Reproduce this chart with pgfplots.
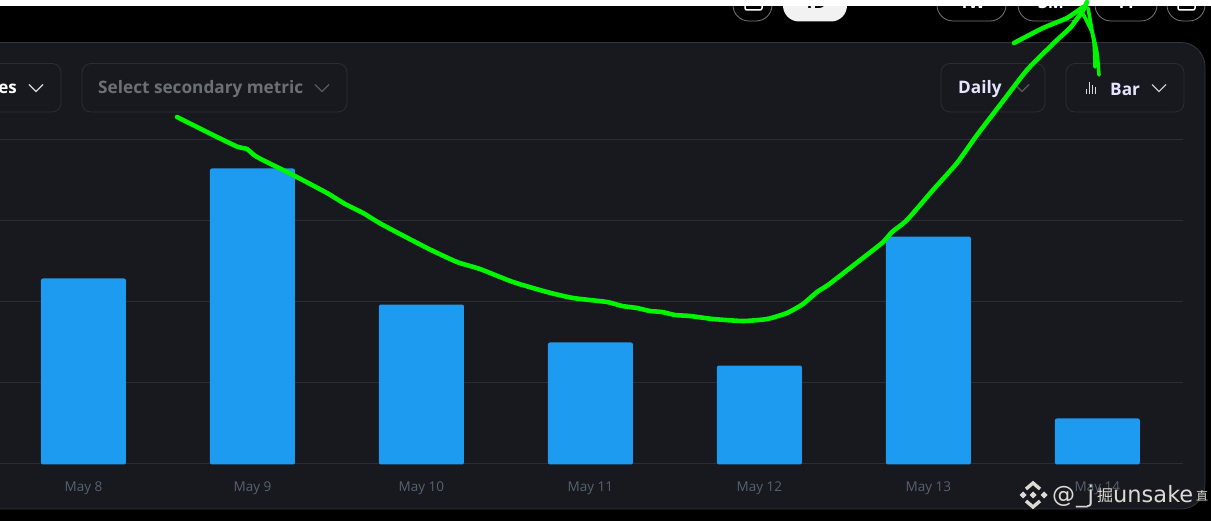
\documentclass[border=0pt]{standalone}
\usepackage{fontspec}
\usepackage{pgfplots}
\pgfplotsset{compat=1.18}
\setmainfont{Open Sans}
\newfontfamily\wm{DejaVu Sans}
\newfontfamily\cjk{Noto Sans CJK SC}
\definecolor{panel}{HTML}{17191F}
\definecolor{pedge}{HTML}{34363B}
\definecolor{boxedge}{HTML}{2B2D33}
\definecolor{gridc}{HTML}{2A2D33}
\definecolor{barc}{HTML}{1D9BF0}
\definecolor{tickc}{HTML}{56636E}
\definecolor{greenpen}{HTML}{00F500}
\definecolor{pill}{HTML}{77777A}
\definecolor{wmc}{HTML}{DDDAD3}
\definecolor{seltext}{HTML}{6B7075}
\pgfplotstableread{
x v
0 2.296
1 3.654
2 1.975
3 1.506
4 1.222
5 2.814
6 0.568
}\bars
\begin{document}
\begin{tikzpicture}[x=1pt,y=1pt]
\path[use as bounding box] (0,0) rectangle (1211,521);
\fill[black] (0,0) rectangle (1211,521);
\begin{scope}
\clip (0,0) rectangle (1211,521);
\begin{scope}[yshift=521pt,y=-1pt]
% top pills, cut by the white strip
\foreach \a/\b in {733/772,937/1006,1018/1085,1095/1157,1167/1205}
  \draw[pill,line width=0.8pt,rounded corners=16pt] (\a,-20) rectangle (\b,21);
\fill[white!90!gray,rounded corners=16pt] (783,-20) rectangle (847,21.5);
\draw[white,line width=1.5pt,rounded corners=2pt] (745,-4) rectangle (762,10);
\draw[white,line width=1.5pt,rounded corners=2pt] (1178,-4) rectangle (1195,10);
\foreach \xx/\tt/\cc in {815/1D/black,972/1W/white,1051/3M/white,1126/1Y/white}
  \node[font=\fontsize{17}{20}\selectfont\bfseries,text=\cc,anchor=base,inner sep=0] at (\xx,8.5) {\tt};
% panel
\fill[panel,draw=pedge,line width=0.8pt,rounded corners=24pt] (-40,42.5) rectangle (1205,509);
% selectors
\foreach \a/\b in {-40/61,82/347,941/1045,1066/1184}
  \draw[boxedge,line width=0.8pt,rounded corners=9pt] (\a,63.5) rectangle (\b,112);
\foreach \c/\col in {36/white!70!gray,322/gray!70!black,1022/gray!70!black,1159/white!55!gray}
  \draw[\col,line width=1.1pt] (\c-7,84.5) -- (\c,91.5) -- (\c+7,84.5);
\foreach \h [count=\i] in {5,12,9,7}
  \draw[white!70!gray,line width=1pt] (1083+\i*3,94) -- ++(0,-\h);
\node[font=\fontsize{17}{20}\selectfont\bfseries,text=white,anchor=east,inner sep=0] at (17,89) {es};
\node[font=\fontsize{17.2}{20}\selectfont\bfseries,text=seltext,anchor=west,inner sep=0] at (98,89) {Select secondary metric};
\node[font=\fontsize{17.2}{20}\selectfont\bfseries,text=white!90!blue,anchor=west,inner sep=0] at (958,89) {Daily};
\node[font=\fontsize{17.2}{20}\selectfont\bfseries,text=white!90!blue,anchor=west,inner sep=0] at (1110,89) {Bar};
\end{scope}
\end{scope}
\fill[white] (0,515) rectangle (1211,521);
\begin{axis}[
  at={(0pt,56.5pt)},anchor=south west,
  scale only axis,width=1183pt,height=325pt,
  xmin=-0.494,xmax=6.506,ymin=0,ymax=4.012,
  axis line style={draw=none},
  major tick length=0pt,
  ytick={0.012,1.012,2.012,3.012,4.012},yticklabels={},
  ymajorgrids,grid style={gridc,line width=1pt},
  xtick=data,
  xticklabels={May 8,May 9,May 10,May 11,May 12,May 13,May 14},
  tick label style={font=\fontsize{13.5}{16}\selectfont,text=tickc},
  xticklabel style={yshift=-14pt},
  ybar,bar width=85pt,
]
\addplot[fill=barc,draw=none,rounded corners=2pt] table[x=x,y=v] {\bars};
\end{axis}
\begin{axis}[
  at={(0pt,0pt)},anchor=south west,
  scale only axis,width=1211pt,height=521pt,
  xmin=0,xmax=1211,ymin=0,ymax=521,y dir=reverse,hide axis,
]
\addplot[greenpen,line width=4.6pt,line cap=round,line join=round,smooth,tension=0.35] coordinates {
(177,117)(213,135)(238,147)(247,149)(257,157)(293,175)(327,193)(345,204)(363,213)(383,225)(427,248)(457,262)(480,269)(513,282)(547,292)(573,298)(607,302)(622,306)(637,308)(650,311)(662,312)(675,315)(690,316)(713,319)(743,321)(767,319)(787,313)(803,304)(817,292)(828,285)(850,268)(882,243)(892,232)(907,220)(933,190)(957,163)(977,135)(1000,105)(1027,70)(1057,40)(1070,28)(1082,12)(1087,2)};
\addplot[greenpen,line width=4.6pt,line cap=round,line join=round,smooth,tension=0.35] coordinates {(1014,43)(1043,28)(1067,18)(1083,7)};
\addplot[greenpen,line width=3.6pt,line cap=round,line join=round,smooth,tension=0.35] coordinates {(1082,12)(1092,32)(1097,53)(1099,75)};
\addplot[greenpen,line width=3.6pt,line cap=round,line join=round,smooth,tension=0.35] coordinates {(1088,8)(1094,43)(1095,67)};
\end{axis}
% watermark
\begin{scope}[yshift=521pt,y=-1pt,wmc]
\foreach \p in {(1023,495),(1033,495),(1044,495)}
  \fill \p ++(-3.5,0) -- ++(3.5,-3.5) -- ++(3.5,3.5) -- ++(-3.5,3.5) -- cycle;
\draw[line width=3.4pt] (1026,489) -- (1033,483) -- (1040,489);
\draw[line width=3.4pt] (1026,501) -- (1033,507) -- (1040,501);
\node[font=\wm\fontsize{23}{28}\selectfont,anchor=base west,inner sep=0] at (1052,503) {@};
\node[font=\wm\fontsize{23}{28}\selectfont,anchor=base west,inner sep=0] at (1076,503) {\_j};
\node[font=\cjk\fontsize{16}{16}\selectfont,anchor=base west,inner sep=0] at (1097,502) {掘};
\node[font=\wm\fontsize{22.5}{28}\selectfont,anchor=base west,inner sep=0] at (1113,503) {unsake};
\node[font=\cjk\fontsize{12}{13}\selectfont,anchor=base west,inner sep=0] at (1196,501) {直};
\end{scope}
\end{tikzpicture}
\end{document}
